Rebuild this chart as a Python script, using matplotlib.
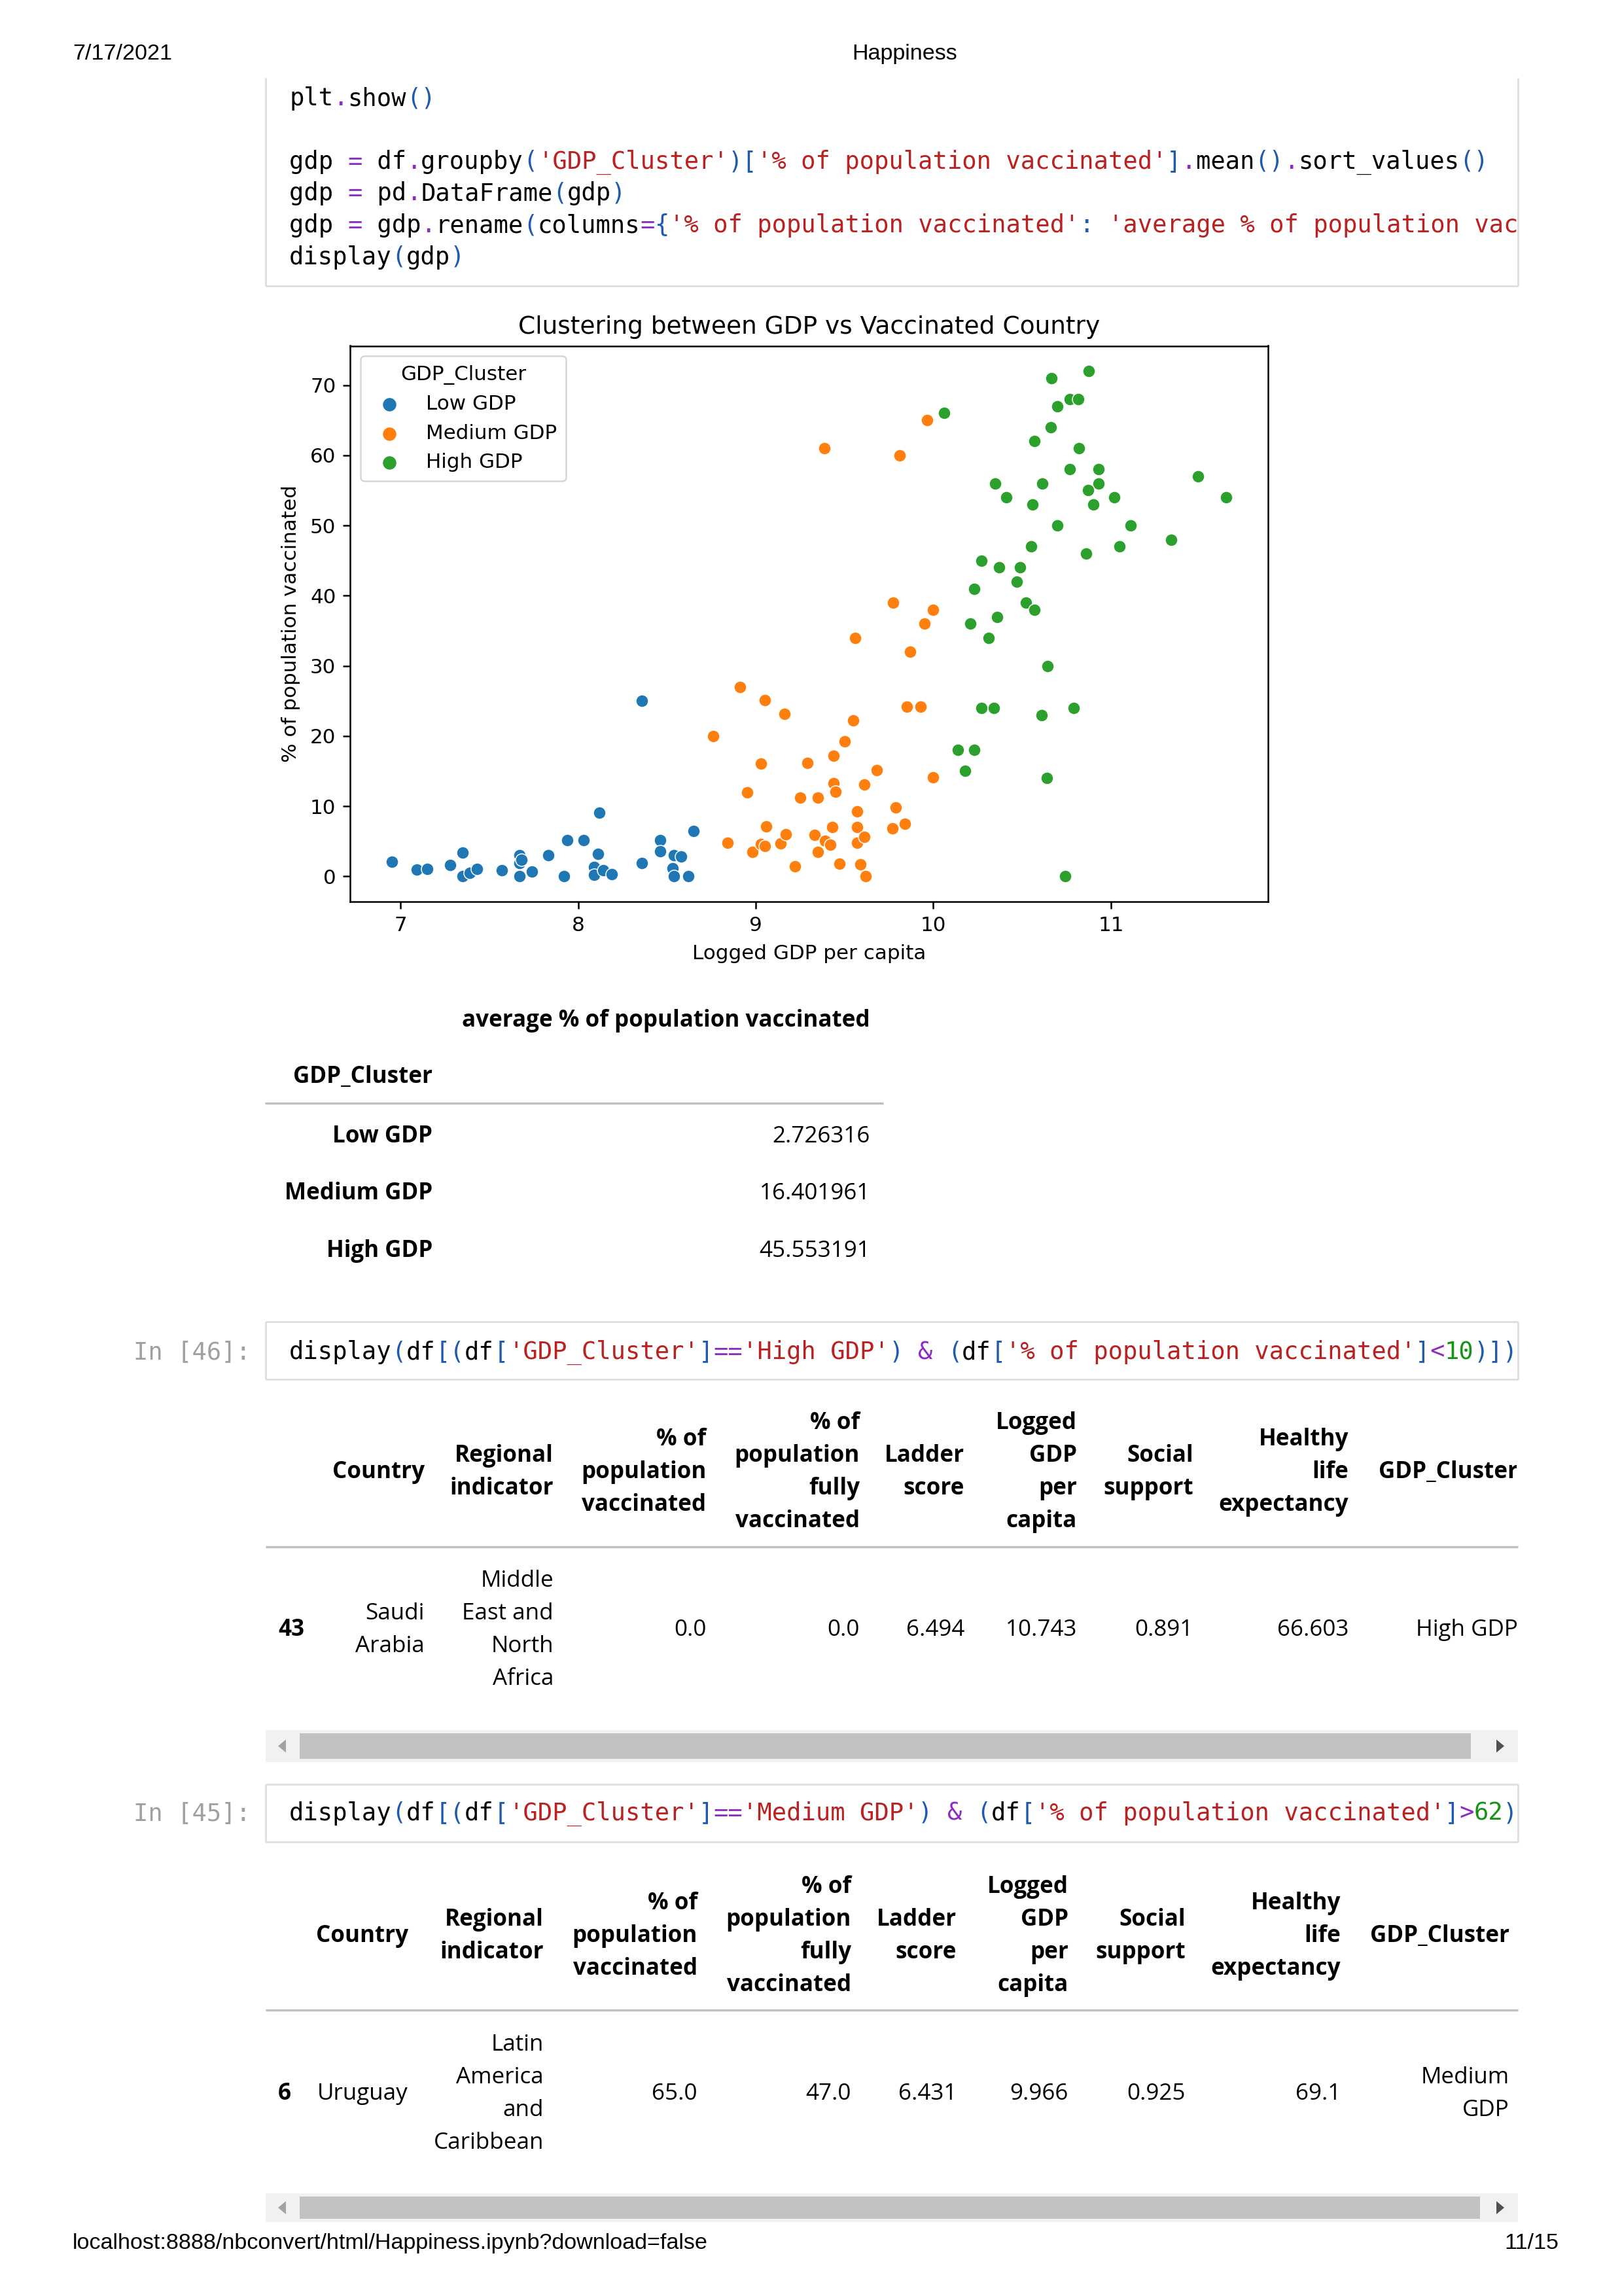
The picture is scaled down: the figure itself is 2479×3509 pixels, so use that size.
import matplotlib
matplotlib.use("Agg")
import matplotlib.pyplot as plt
from matplotlib.patches import Rectangle, Polygon
from matplotlib.transforms import Bbox

# ==========================================
# Notebook page: GDP clusters vs vaccination
# ==========================================

W, H, DPI = 2479, 3509, 300

# --- Scatter data ---
low_gdp = [6.95, 7.09, 7.15, 7.28, 7.35, 7.35, 7.39, 7.43, 7.57, 7.67, 7.67, 7.68,
           7.67, 7.74, 7.83, 7.92, 7.94, 8.03, 8.12, 8.11, 8.09, 8.09, 8.14, 8.19,
           8.36, 8.36, 8.46, 8.46, 8.54, 8.58, 8.53, 8.54, 8.62, 8.65]
low_vacc = [2.1, 1.0, 1.1, 1.6, 3.4, 0.0, 0.5, 1.1, 0.9, 3.0, 1.9, 2.4,
            0.0, 0.7, 3.0, 0.0, 5.2, 5.2, 9.1, 3.2, 1.3, 0.2, 0.9, 0.3,
            25.0, 1.9, 5.2, 3.6, 3.0, 2.8, 1.2, 0.0, 0.0, 6.5]

med_gdp = [8.76, 8.84, 8.91, 8.95, 8.98, 9.03, 9.05, 9.03, 9.05, 9.06, 9.14, 9.16,
           9.17, 9.22, 9.25, 9.29, 9.33, 9.35, 9.35, 9.385, 9.39, 9.42, 9.43, 9.44,
           9.44, 9.45, 9.47, 9.50, 9.55, 9.56, 9.57, 9.57, 9.57, 9.59, 9.61, 9.61,
           9.62, 9.68, 9.77, 9.775, 9.79, 9.81, 9.84, 9.85, 9.87, 9.93, 9.95, 9.966,
           10.0, 10.0]
med_vacc = [20.0, 4.8, 27.0, 12.0, 3.5, 16.1, 25.1, 4.6, 4.3, 7.1, 4.7, 23.2,
            6.0, 1.4, 11.2, 16.2, 5.9, 11.2, 3.5, 61.0, 5.1, 4.5, 7.0, 17.2,
            13.3, 12.1, 1.8, 19.2, 22.2, 34.0, 9.3, 7.0, 4.8, 1.7, 13.1, 5.6,
            0.0, 15.1, 6.8, 39.0, 9.8, 60.0, 7.5, 24.2, 32.0, 24.2, 36.0, 65.0,
            38.0, 14.1]

high_gdp = [10.874, 10.667, 10.77, 10.815, 10.70, 10.06, 10.66, 10.57, 10.82, 10.77,
            10.93, 11.49, 10.35, 10.615, 10.93, 10.87, 10.41, 11.02, 11.65, 10.56,
            10.90, 10.70, 11.11, 11.34, 10.55, 11.05, 10.86, 10.27, 10.37, 10.49,
            10.47, 10.23, 10.52, 10.57, 10.36, 10.21, 10.31, 10.645, 10.27, 10.34,
            10.61, 10.79, 10.14, 10.23, 10.18, 10.64, 10.743]
high_vacc = [72, 71, 68, 68, 67, 66, 64, 62, 61, 58,
             58, 57, 56, 56, 56, 55, 54, 54, 54, 53,
             53, 50, 50, 48, 47, 47, 46, 45, 44, 44,
             42, 41, 39, 38, 37, 36, 34, 30, 24, 24,
             23, 24, 18, 18, 15, 14, 0]

cluster_names = ["Low GDP", "Medium GDP", "High GDP"]
cluster_colors = ["#1f77b4", "#ff7f0e", "#2ca02c"]
mean_values = ["2.726316", "16.401961", "45.553191"]

table_cols = ["Country", "Regional\nindicator", "% of\npopulation\nvaccinated",
              "% of\npopulation\nfully\nvaccinated", "Ladder\nscore",
              "Logged\nGDP\nper\ncapita", "Social\nsupport",
              "Healthy\nlife\nexpectancy", "GDP_Cluster"]
saudi_row = ["43", "Saudi\nArabia", "Middle\nEast and\nNorth\nAfrica", "0.0", "0.0",
             "6.494", "10.743", "0.891", "66.603", "High GDP"]
uruguay_row = ["6", "Uruguay", "Latin\nAmerica\nand\nCaribbean", "65.0", "47.0",
               "6.431", "9.966", "0.925", "69.1", "Medium\nGDP"]

code_cell_1 = ["plt.show()",
               "",
               "gdp = df.groupby('GDP_Cluster')['% of population vaccinated'].mean().sort_values()",
               "gdp = pd.DataFrame(gdp)",
               "gdp = gdp.rename(columns={'% of population vaccinated': 'average % of population vaccinated'})",
               "display(gdp)"]
code_cell_2 = "display(df[(df['GDP_Cluster']=='High GDP') & (df['% of population vaccinated']<10)])"
code_cell_3 = "display(df[(df['GDP_Cluster']=='Medium GDP') & (df['% of population vaccinated']>62)])"

# --- Styles ---
MONO = "DejaVu Sans Mono"
SANS = "Open Sans"
PAGE_FONT = "Liberation Sans"
CODE_SIZE = 8.91
CHAR_W = 0.60205 * CODE_SIZE * DPI / 72
TABLE_SIZE = 8.4
ROW_PITCH = 50
BASE_OFF = 12
C_STR, C_OP, C_BR, C_NUM = "#BA2121", "#8E2BC4", "#1E5BAF", "#149414"
BOX_LEFT, BOX_RIGHT = 406, 2320

fig = plt.figure(figsize=(W / DPI, H / DPI), dpi=DPI)
fig.patch.set_facecolor("white")
page = fig.add_axes([0, 0, 1, 1])
page.set_xlim(0, W)
page.set_ylim(H, 0)
page.axis("off")

# clip rectangle in display pixels (only the right edge matters)
box_clip = Bbox.from_extents(0, 0, BOX_RIGHT - 2, H)


def char_color(ch, in_str):
    if in_str or ch == "'":
        return C_STR
    if ch.isdigit():
        return C_NUM
    if ch in "=.&<>":
        return C_OP
    if ch in "()[]{}:":
        return C_BR
    return "black"


def code_line(x0, y, line):
    """Draw one line of code with simple highlighting, clipped to the box."""
    runs = []
    in_str = False
    for i, ch in enumerate(line):
        col = char_color(ch, in_str)
        if ch == "'":
            in_str = not in_str
        if runs and runs[-1][2] == col:
            runs[-1][1] += ch
        else:
            runs.append([i, ch, col])
    for start, s, col in runs:
        if not s.strip():
            continue
        t = page.text(x0 + start * CHAR_W, y, s, family=MONO, fontsize=CODE_SIZE,
                      color=col, ha="left", va="baseline", clip_on=True)
        t.set_clip_path(None)
        t.set_clip_box(box_clip)


def code_box(top, bottom, open_top=False):
    kw = dict(color="#dddddd", lw=0.65, solid_capstyle="butt")
    page.plot([BOX_LEFT, BOX_LEFT], [top, bottom], **kw)
    page.plot([BOX_RIGHT, BOX_RIGHT], [top, bottom], **kw)
    page.plot([BOX_LEFT, BOX_RIGHT], [bottom, bottom], **kw)
    if not open_top:
        page.plot([BOX_LEFT, BOX_RIGHT], [top, top], **kw)


def cell(xr, yc, text, bold=False, ha="right", clip=False):
    lines = text.split("\n")
    n = len(lines)
    for i, ln in enumerate(lines):
        y = yc + (i - (n - 1) / 2) * ROW_PITCH + BASE_OFF
        t = page.text(xr, y, ln, family=SANS, fontsize=TABLE_SIZE,
                      fontweight="bold" if bold else "normal", color="black",
                      ha=ha, va="baseline", clip_on=clip)
        if clip:
            t.set_clip_path(None)
            t.set_clip_box(box_clip)


def scrollbar(top, bottom, thumb_right):
    page.add_patch(Rectangle((BOX_LEFT, top), BOX_RIGHT - BOX_LEFT, bottom - top,
                             facecolor="#f1f1f1", edgecolor="none"))
    page.add_patch(Rectangle((458, top + 5), thumb_right - 458, bottom - top - 10,
                             facecolor="#c1c1c1", edgecolor="none"))
    yc = (top + bottom) / 2
    page.add_patch(Polygon([(425, yc), (437, yc - 10), (437, yc + 10)],
                           closed=True, facecolor="#a3a3a3", edgecolor="none"))
    page.add_patch(Polygon([(2299, yc), (2287, yc - 10), (2287, yc + 10)],
                           closed=True, facecolor="#505050", edgecolor="none"))


# --- Page header / footer ---
page.text(111, 91, "7/17/2021", family=PAGE_FONT, fontsize=8.2, ha="left", va="baseline")
page.text(1383, 91, "Happiness", family=PAGE_FONT, fontsize=8.2, ha="center", va="baseline")
page.text(111, 3437, "localhost:8888/nbconvert/html/Happiness.ipynb?download=false",
          family=PAGE_FONT, fontsize=8.2, ha="left", va="baseline")
page.text(2382, 3437, "11/15", family=PAGE_FONT, fontsize=8.2, ha="right", va="baseline")

# --- First code cell (continued from previous page) ---
code_box(119, 437, open_top=True)
for k, line in enumerate(code_cell_1):
    if line:
        code_line(442, 161 + k * 48.5, line)

# --- Scatter plot ---
ax = fig.add_axes([535 / W, 1 - 1378 / H, (1938 - 535) / W, (1378 - 528.5) / H])
for xs, ys, name, col in zip([low_gdp, med_gdp, high_gdp], [low_vacc, med_vacc, high_vacc],
                             cluster_names, cluster_colors):
    ax.scatter(xs, ys, s=21, color=col, edgecolor="white", linewidth=0.36, label=name)
ax.set_xticks([7, 8, 9, 10, 11])
ax.set_yticks([0, 10, 20, 30, 40, 50, 60, 70])
ax.tick_params(labelsize=7.44, length=2.6, width=0.6, pad=2.6)
for sp in ax.spines.values():
    sp.set_linewidth(0.6)
ax.set_title("Clustering between GDP vs Vaccinated Country", fontsize=9.0, pad=4.5)
ax.set_xlabel("Logged GDP per capita", fontsize=7.44, labelpad=3.4)
ax.set_ylabel("% of population vaccinated", fontsize=7.44, labelpad=3.6)
leg = ax.legend(title="GDP_Cluster", loc="upper left", fontsize=7.44, title_fontsize=7.44,
                scatterpoints=1, markerscale=1.15, borderpad=0.45)
leg.get_frame().set_linewidth(0.6)

# --- Mean table ---
cell(1330, 1557, "average % of population vaccinated", bold=True)
cell(661, 1643, "GDP_Cluster", bold=True)
page.plot([405, 1350], [1686, 1686], color="#bfbfbf", lw=0.8, solid_capstyle="butt")
for k, (name, val) in enumerate(zip(cluster_names, mean_values)):
    yc = 1733.5 + k * 87.7
    cell(661, yc, name, bold=True)
    cell(1330, yc, val)

# --- In [46] ---
code_box(2020, 2108)
page.text(383, 2077, "In [46]:", family=MONO, fontsize=CODE_SIZE, color="#a0a0a0",
          ha="right", va="baseline")
code_line(442, 2077, code_cell_2)

cols_t2 = [649, 846, 1079.5, 1314, 1474, 1646, 1824, 2061, 2320]
for xr, head in zip(cols_t2, table_cols):
    cell(xr, 2247, head, bold=True, clip=True)
page.plot([BOX_LEFT, BOX_RIGHT], [2364, 2364], color="#bfbfbf", lw=0.8, solid_capstyle="butt")
cell(425, 2488, saudi_row[0], bold=True, ha="left")
for xr, val in zip(cols_t2, saudi_row[1:]):
    cell(xr, 2488, val, clip=True)
scrollbar(2644, 2693, 2248)

# --- In [45] ---
code_box(2727, 2815)
page.text(383, 2782, "In [45]:", family=MONO, fontsize=CODE_SIZE, color="#a0a0a0",
          ha="right", va="baseline")
code_line(442, 2782, code_cell_3)

cols_t3 = [624, 831, 1066, 1301, 1462, 1633, 1812, 2049, 2307]
for xr, head in zip(cols_t3, table_cols):
    cell(xr, 2956, head, bold=True, clip=True)
page.plot([BOX_LEFT, BOX_RIGHT], [3072, 3072], color="#bfbfbf", lw=0.8, solid_capstyle="butt")
cell(425, 3197, uruguay_row[0], bold=True, ha="left")
for xr, val in zip(cols_t3, uruguay_row[1:]):
    cell(xr, 3197, val)
scrollbar(3352, 3396, 2262)

fig.savefig("out.png", dpi=DPI, facecolor="white")
